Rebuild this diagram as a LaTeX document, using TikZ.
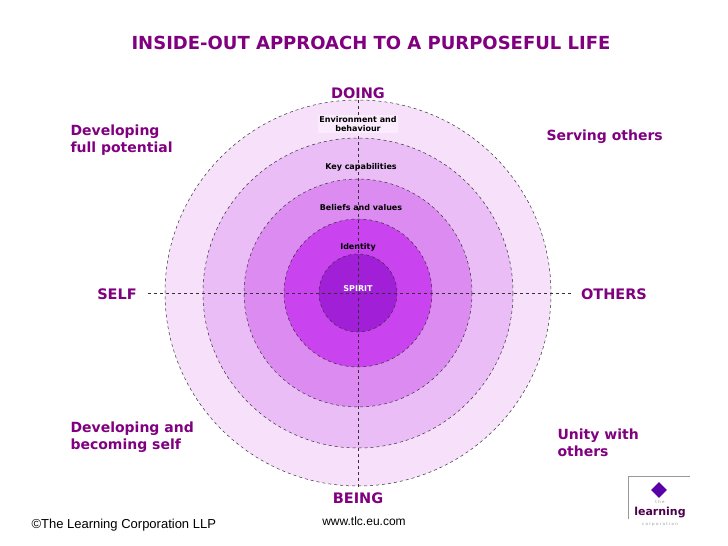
\documentclass[tikz,border=0pt]{standalone}
\usepackage{fontspec}
\setmainfont{DejaVu Sans}
\newfontfamily\arialf{Liberation Sans}
\begin{document}
\begin{tikzpicture}[x=1pt,y=-1pt,
 ring/.style={draw=black!80,dashed,line width=0.5pt},
 lab/.style={font=\bfseries\fontsize{14}{17}\selectfont,text=tp,align=left,anchor=west},
 big/.style={font=\bfseries\fontsize{14.5}{17}\selectfont,text=tp},
 small/.style={font=\bfseries\fontsize{8}{9}\selectfont,align=center}]
\definecolor{c1}{HTML}{F6E0FA}\definecolor{c2}{HTML}{EBBDF7}
\definecolor{c3}{HTML}{DC8CF0}\definecolor{c4}{HTML}{C943EE}
\definecolor{c5}{HTML}{A11FD6}\definecolor{tp}{HTML}{800080}
\useasboundingbox (0,0) rectangle (728,546);
\fill[white] (0,0) rectangle (728,546);
\coordinate (c) at (358,293);
\path[ring,fill=c1] (c) circle (193);
\path[ring,fill=c2] (c) circle (155);
\path[ring,fill=c3] (c) circle (114);
\path[ring,fill=c4] (c) circle (74);
\path[ring,fill=c5] (c) circle (39);
\coordinate (vt) at (358,100); \coordinate (vb) at (358,487);
\coordinate (hl) at (148,293); \coordinate (hr) at (572,293);
\draw[ring] (vt)--(vb); \draw[ring] (hl)--(hr);
\node[font=\bfseries\fontsize{18}{20}\selectfont,text=tp] (t) at (371,43) {INSIDE-OUT APPROACH TO A PURPOSEFUL LIFE};
\node[big] (doing) at (358,93) {DOING};
\node[big] (being) at (358,498) {BEING};
\node[big] (self) at (117,294) {SELF};
\node[big] (others) at (614,294) {OTHERS};
\node[lab] (dfp) at (67,140) {Developing\\full potential};
\node[lab] (so) at (543,137) {Serving others};
\node[lab] (dbs) at (67,437) {Developing and\\becoming self};
\node[lab] (uo) at (554,443) {Unity with\\others};
\node[small,fill=c1!60,inner sep=1pt] (env) at (358,124) {Environment and\\behaviour};
\node[small] (kc) at (361,167) {Key capabilities};
\node[small] (bv) at (361,208) {Beliefs and values};
\node[small] (id) at (358,247) {Identity};
\node[small,text=white] (sp) at (358,289) {SPIRIT};
\node[font=\arialf\fontsize{13}{15}\selectfont,anchor=west] (cp) at (28,525) {\textcopyright The Learning Corporation LLP};
\node[font=\arialf\fontsize{12}{14}\selectfont] (url) at (364,521) {www.tlc.eu.com};
\draw[black!40,line width=0.4pt] (628,519)--(628,476)--(690,476);
\node[fill=violet!70!blue,rotate=45,minimum size=11pt,inner sep=0pt] (logo) at (659,490) {};
\node[font=\bfseries\fontsize{11}{13}\selectfont,text=violet!60!black] (ln) at (660,513) {learning};
\node[font=\fontsize{4}{5}\selectfont,text=black!40] (th) at (660,502) {t h e};
\node[font=\fontsize{4}{5}\selectfont,text=black!40] (co) at (660,524) {c o r p o r a t i o n};
\end{tikzpicture}
\end{document}
